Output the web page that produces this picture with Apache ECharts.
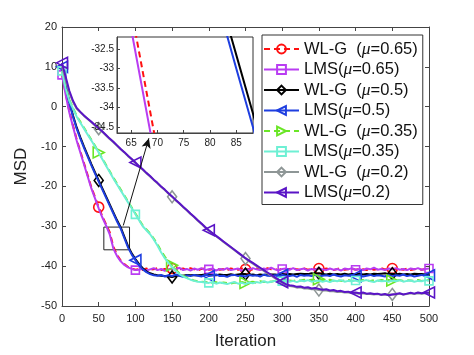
<!DOCTYPE html>
<html><head><meta charset="utf-8">
<script src="https://cdn.jsdelivr.net/npm/echarts@6/dist/echarts.min.js"></script>
<style>html,body{margin:0;padding:0;background:#fff}#c{width:474px;height:355px}</style>
</head><body><div id="c"></div>
<script>
// iteration grid (every 5 iterations)
const iterStep = 5;
const iterations = Array.from({length: 101}, (_, i) => i * iterStep);

const seriesNames = ['WL-G  (μ=0.65)', 'LMS(μ=0.65)', 'WL-G  (μ=0.5)', 'LMS(μ=0.5)',
  'WL-G  (μ=0.35)', 'LMS(μ=0.35)', 'WL-G  (μ=0.2)', 'LMS(μ=0.2)'];

const wlgMarkerIters = [50, 150, 250, 350, 450];
const lmsMarkerIters = [0, 100, 200, 300, 400, 500];

const insetXTicks = [65, 70, 75, 80, 85];
const insetYTicks = [-34.5, -34, -33.5, -33, -32.5];
const insetXRange = [62.3, 88.2];
const insetYRange = [-34.65, -32.2];
const zoomBox = [[57, -30.2], [92, -35.9]];
const zoomArrow = [[83.5, -29.8], [118.4, -7.9]];

const wlg065 = [8, 3.3, -1.2, -4.7, -8.2, -11.2, -14.2, -17.2, -20.2, -22.7, -25.2, -27.5, -29.5, -31.5, -35.1, -37.2, -38.6, -39.5, -40.2, -40.6, -40.9,
  -40.7, -41.0, -40.6, -40.9, -40.8, -40.5, -41.0, -40.7, -40.9, -40.6,
  -41.0, -40.8, -40.6, -40.9, -40.5, -40.8, -41.1, -40.7, -40.6, -40.9,
  -40.8, -40.5, -40.9, -40.7, -41.0, -40.6, -40.8, -40.9, -40.6, -40.8,
  -40.7, -41.0, -40.6, -40.8, -40.9, -40.5, -40.8, -40.7, -41.0, -40.6,
  -40.9, -40.7, -40.5, -40.8, -41.0, -40.6, -40.9, -40.7, -40.8, -40.6,
  -40.9, -40.6, -40.8, -41.0, -40.7, -40.5, -40.9, -40.8, -40.6, -40.9,
  -40.7, -40.8, -41.0, -40.6, -40.9, -40.7, -40.5, -40.8, -40.9, -40.6,
  -40.8, -40.7, -40.9, -40.6, -41.0, -40.8, -40.6, -40.9, -40.7, -40.8];
const lms065 = [8, 3, -1.5, -5, -8.5, -11.5, -14.5, -17.5, -20.5, -23, -25.5, -27.8, -29.8, -32.0, -35.6, -37.5, -38.8, -39.7, -40.3, -40.7, -41.0,
  -40.9, -40.6, -41.1, -40.8, -40.5, -41.0, -40.7, -41.2, -40.8, -40.6,
  -40.9, -40.4, -41.0, -40.7, -41.1, -40.6, -40.9, -40.5, -41.0, -40.8,
  -40.6, -41.1, -40.7, -40.9, -40.5, -41.0, -40.8, -40.6, -41.2, -40.7,
  -40.9, -40.5, -40.8, -41.0, -40.6, -40.9, -40.4, -40.8, -41.1, -40.7,
  -40.6, -40.9, -40.5, -41.0, -40.8, -40.6, -41.1, -40.7, -40.9, -40.5,
  -40.8, -41.0, -40.6, -40.9, -40.7, -41.1, -40.6, -40.8, -40.5, -40.9,
  -40.7, -41.0, -40.6, -40.8, -40.4, -40.9, -40.7, -41.0, -40.6, -40.8,
  -40.5, -40.9, -40.7, -41.0, -40.6, -40.8, -40.5, -40.9, -40.7, -40.6];
const wlg05 = [10, 5.3, 1.3, -2.2, -5.2, -7.7, -10.0, -12.2, -14.4, -16.5, -18.5, -20.5, -22.5, -24.5, -26.5, -28.5, -30.3, -32.65, -35.0, -36.8, -38.2, -39.5, -40.5, -41.3, -41.8, -42.1, -42.3,
  -42.4, -42.5, -42.6, -42.7, -42.5, -42.3, -42.4, -42.2, -42.3, -42.2,
  -42.3, -42.2, -42.1, -42.3, -42.2, -42.3, -42.1, -42.2, -42.2, -42.0,
  -42.2, -42.1, -42.0, -42.0, -42.2, -42.1, -42.3, -42.1, -42.2, -42.0,
  -42.1, -42.1, -42.2, -42.0, -42.1, -42.0, -42.1, -42.0, -41.9, -42.0,
  -42.0, -41.8, -41.9, -41.8, -42.0, -42.1, -41.9, -42.1, -42.0, -42.1,
  -41.9, -42.1, -42.0, -42.1, -41.9, -42.1, -42.0, -42.1, -41.9, -42.0,
  -41.9, -41.8, -42.0, -41.9, -42.1, -41.9, -42.1, -42.0, -42.1, -41.9,
  -42.0, -42.0, -42.1, -42.0];
const lms05 = [10, 5, 1, -2.5, -5.5, -8, -10.3, -12.5, -14.7, -16.8, -18.8, -20.8, -22.8, -24.8, -26.8, -28.8, -30.6, -33.0, -35.35, -37.1, -38.5, -39.8, -40.8, -41.5, -42, -42.3, -42.4,
  -42.2, -42.6, -42.3, -42.5, -42.1, -42.4, -42.7, -42.3, -42.5, -42.2,
  -42.4, -42.6, -42.2, -42.5, -42.3, -42.1, -42.5, -42.4, -42.7, -42.3,
  -42.2, -42.5, -42.4, -42.6, -42.2, -42.4, -42.3, -42.6, -42.1, -42.4,
  -42.5, -42.3, -42.6, -42.2, -42.4, -42.5, -42.3, -42.7, -42.2, -42.4,
  -42.3, -42.5, -42.2, -42.6, -42.4, -42.3, -42.5, -42.1, -42.4, -42.6,
  -42.3, -42.4, -42.2, -42.5, -42.3, -42.6, -42.4, -42.2, -42.5, -42.3,
  -42.4, -42.6, -42.2, -42.5, -42.3, -42.4, -42.1, -42.5, -42.3, -42.6,
  -42.4, -42.2, -42.5, -42.3];
const wlg035 = [9, 4.7, 1.7, -0.3, -2.3, -3.8, -5.3, -6.8, -8.3, -9.8, -11.5, -13.0, -14.6, -16.2, -17.8, -19.3, -20.8, -22.3, -23.8, -25.3, -26.8,
  -28.3, -29.8, -30.8, -31.8, -33.1, -34.5, -36.2, -37.6, -38.8, -39.8, -40.9, -41.8, -42.4, -42.9, -43.3, -43.6, -43.8, -43.9, -44.0, -44.1,
  -44.2, -44.0, -44.3, -44.1, -44.2, -44.4, -44.1, -44.3, -44.0, -44.2,
  -44.0, -43.9, -44.2, -43.8, -44.0, -43.8, -43.9, -43.7, -43.8, -43.6,
  -43.7, -43.6, -43.7, -43.5, -43.6, -43.4, -43.6, -43.4, -43.5, -43.3,
  -43.5, -43.6, -43.4, -43.7, -43.5, -43.7, -43.6, -43.5, -43.7, -43.5,
  -43.7, -43.5, -43.6, -43.7, -43.5, -43.7, -43.5, -43.6, -43.5, -43.6,
  -43.7, -43.5, -43.7, -43.5, -43.6, -43.7, -43.5, -43.7, -43.6, -43.5];
const lms035 = [9, 4.5, 1.5, -0.5, -2.5, -4, -5.5, -7, -8.5, -10, -11.5, -13.2, -14.8, -16.4, -18, -19.5, -21, -22.5, -24, -25.5, -27,
  -28.5, -30, -31, -32, -33.3, -34.8, -36.5, -38, -39.2, -40.3, -41.2, -42, -42.6, -43, -43.4, -43.7, -43.9, -44, -44.1, -44.2,
  -44.0, -44.4, -44.1, -44.3, -44.5, -44.2, -44.0, -44.4, -44.2, -44.5,
  -44.1, -44.3, -44.0, -44.2, -43.8, -44.1, -43.9, -43.7, -44.0, -43.8,
  -43.6, -43.9, -43.7, -44.0, -43.6, -43.8, -43.5, -43.9, -43.7, -43.6,
  -43.9, -43.7, -44.0, -43.6, -43.8, -43.5, -43.9, -43.7, -43.8, -43.6,
  -43.9, -43.7, -43.5, -43.8, -44.0, -43.6, -43.8, -43.7, -43.9, -43.6,
  -43.8, -43.5, -43.9, -43.7, -43.6, -43.9, -43.7, -43.8, -43.5, -43.7];
const wlg02 = [10, 6.8, 3.5, 1.2, -0.5, -1.4, -2.3, -3.1, -3.9, -4.7, -5.5, -6.3, -7.2, -8.1, -8.9, -9.8, -10.7, -11.5, -12.4, -13.2, -14.1,
  -15.0, -15.8, -16.7, -17.5, -18.4, -19.2, -20.1, -20.9, -21.8, -22.6,
  -23.5, -24.3, -25.2, -26.0, -26.9, -27.7, -28.6, -29.4, -30.3, -31.1,
  -31.8, -32.5, -33.2, -33.9, -34.6, -35.3, -36.0, -36.7, -37.4, -38.1,
  -38.8, -39.4, -40.0, -40.6, -41.2, -41.8, -42.4, -43.0, -43.6, -44.2,
  -44.7, -45.0, -45.1, -45.4, -45.3, -45.6, -45.6, -45.8, -45.8, -46.0,
  -46.1, -46.1, -46.3, -46.3, -46.5, -46.4, -46.6, -46.6, -46.8, -46.8,
  -46.9, -46.8, -47.0, -47.0, -47.1, -47.0, -47.2, -47.1, -47.2, -47.1,
  -47.1, -46.9, -47.1, -47.0, -46.8, -47.0, -46.8, -46.9, -46.8, -46.8];
const lms02 = [11, 7.5, 4, 1.5, -0.3, -1.3, -2.2, -3, -3.8, -4.6, -5.4, -6.2, -7.1, -8, -8.8, -9.7, -10.6, -11.4, -12.3, -13.1, -14,
  -14.9, -15.7, -16.6, -17.4, -18.3, -19.1, -20, -20.8, -21.7, -22.5,
  -23.4, -24.2, -25.1, -25.9, -26.8, -27.6, -28.5, -29.3, -30.2, -31,
  -31.7, -32.4, -33.1, -33.8, -34.5, -35.2, -35.9, -36.6, -37.3, -38,
  -38.6, -39.2, -39.8, -40.4, -41, -41.6, -42.2, -42.8, -43.4, -44,
  -44.5, -44.8, -44.9, -45.2, -45.1, -45.4, -45.3, -45.6, -45.5, -45.7,
  -45.9, -45.8, -46.1, -46.0, -46.3, -46.2, -46.5, -46.4, -46.7, -46.6,
  -46.8, -46.6, -46.9, -46.8, -47.0, -46.9, -47.2, -47.0, -47.3, -47.1,
  -47.0, -46.8, -47.1, -46.9, -46.7, -46.9, -46.6, -46.8, -46.7, -46.6];

const seriesValues = [wlg065, lms065, wlg05, lms05, wlg035, lms035, wlg02, lms02];
const colors = ['#ff1010', '#b93cf2', '#000000', '#1e3ee0', '#6ae626', '#6ef0d4', '#8e9696', '#5a14c6'];
const dashed = [true, false, false, false, true, false, false, false];
const symbols = ['circle', 'rect', 'diamond', 'triangle', 'triangle', 'rect', 'diamond', 'triangle'];
const rotations = [0, 0, 0, 90, -90, 0, 0, 90];
const symSizes = [10, 8, [9, 12], 11, 11, 8, [9, 12], 11];
const markerSets = [wlgMarkerIters, lmsMarkerIters, wlgMarkerIters, lmsMarkerIters, wlgMarkerIters, lmsMarkerIters, wlgMarkerIters, lmsMarkerIters];

const FONT = 'Liberation Sans, Arial, sans-serif';
const series = [];
seriesValues.forEach((vals, k) => {
  const data = iterations.map((x, i) => [x, vals[i]]);
  const marks = markerSets[k];
  series.push({
    name: seriesNames[k], type: 'line', xAxisIndex: 0, yAxisIndex: 0,
    data: data, symbol: symbols[k], symbolRotate: rotations[k], showAllSymbol: true,
    symbolSize: (v) => marks.indexOf(v[0]) >= 0 ? symSizes[k] : 0,
    lineStyle: {color: colors[k], width: 2, type: dashed[k] ? [6, 4] : 'solid'},
    itemStyle: {color: 'rgba(255,255,255,0)', borderColor: colors[k], borderWidth: 1.6},
    emphasis: {disabled: true}, animation: false, z: 2 + k * 0.01
  });
});
// inset copies
seriesValues.forEach((vals, k) => {
  series.push({
    name: seriesNames[k] + ' inset', type: 'line', xAxisIndex: 2, yAxisIndex: 2,
    data: iterations.map((x, i) => [x, vals[i]]), symbol: 'none', clip: true,
    lineStyle: {color: colors[k], width: 2, type: dashed[k] ? [6, 4] : 'solid'},
    emphasis: {disabled: true}, animation: false, z: 11, silent: true
  });
});
// zoom box + arrow
series.push({
  name: 'zoom', type: 'line', xAxisIndex: 0, yAxisIndex: 0, data: [], silent: true, animation: false, z: 1,
  markArea: {silent: true, itemStyle: {color: 'rgba(0,0,0,0)', borderColor: '#222', borderWidth: 1},
    label: {show: false}, data: [[{coord: zoomBox[0]}, {coord: zoomBox[1]}]]},
  markLine: {silent: true, symbol: ['none', 'arrow'], symbolSize: [7, 10], label: {show: false},
    lineStyle: {color: '#111', width: 1, type: 'solid'},
    data: [[{coord: zoomArrow[0]}, {coord: zoomArrow[1]}]]}
});

const axisCol = '#444', txtCol = '#222';
const option = {
  backgroundColor: '#fff',
  animation: false,
  grid: [
    {left: 62, top: 27, right: 45, bottom: 43, show: false},
    {left: 117, top: 37, width: 136, height: 96, show: true, backgroundColor: '#fff', borderColor: '#333', borderWidth: 1, z: 10}
  ],
  xAxis: [
    {type: 'value', gridIndex: 0, position: 'bottom', min: 0, max: 500, interval: 50,
      axisLine: {show: true, onZero: false, lineStyle: {color: axisCol, width: 1}},
      axisTick: {inside: true, length: 4, lineStyle: {color: axisCol}},
      axisLabel: {fontSize: 11, color: txtCol, fontFamily: FONT, margin: 7},
      splitLine: {show: false},
      name: 'Iteration', nameLocation: 'middle', nameGap: 27,
      nameTextStyle: {fontSize: 17, color: txtCol, fontFamily: FONT}},
    {type: 'value', gridIndex: 0, position: 'top', min: 0, max: 500, interval: 50,
      axisLine: {show: true, onZero: false, lineStyle: {color: axisCol, width: 1}},
      axisTick: {inside: true, length: 4, lineStyle: {color: axisCol}},
      axisLabel: {show: false}, splitLine: {show: false}},
    {type: 'value', gridIndex: 1, position: 'bottom', min: insetXRange[0], max: insetXRange[1], z: 12,
      axisLine: {show: true, onZero: false, lineStyle: {color: axisCol, width: 1}},
      axisTick: {inside: true, length: 3, customValues: insetXTicks, lineStyle: {color: axisCol}},
      axisLabel: {fontSize: 10, color: txtCol, fontFamily: FONT, margin: 5, customValues: insetXTicks},
      splitLine: {show: false}}
  ],
  yAxis: [
    {type: 'value', gridIndex: 0, position: 'left', min: -50, max: 20, interval: 10,
      axisLine: {show: true, onZero: false, lineStyle: {color: axisCol, width: 1}},
      axisTick: {inside: true, length: 4, lineStyle: {color: axisCol}},
      axisLabel: {fontSize: 11, color: txtCol, fontFamily: FONT, margin: 5},
      splitLine: {show: false},
      name: 'MSD', nameLocation: 'middle', nameGap: 21,
      nameTextStyle: {fontSize: 17, color: txtCol, fontFamily: FONT}},
    {type: 'value', gridIndex: 0, position: 'right', min: -50, max: 20, interval: 10,
      axisLine: {show: true, onZero: false, lineStyle: {color: axisCol, width: 1}},
      axisTick: {inside: true, length: 4, lineStyle: {color: axisCol}},
      axisLabel: {show: false}, splitLine: {show: false}},
    {type: 'value', gridIndex: 1, position: 'left', min: insetYRange[0], max: insetYRange[1], z: 12,
      axisLine: {show: true, onZero: false, lineStyle: {color: axisCol, width: 1}},
      axisTick: {inside: true, length: 3, customValues: insetYTicks, lineStyle: {color: axisCol}},
      axisLabel: {fontSize: 10, color: txtCol, fontFamily: FONT, margin: 3, customValues: insetYTicks},
      splitLine: {show: false}}
  ],
  legend: {
    data: seriesNames, orient: 'vertical', left: 262, top: 35,
    backgroundColor: '#fff', borderColor: '#333', borderWidth: 1,
    padding: [5, 5, 3, 1], itemWidth: 35, itemHeight: 11, itemGap: 2.5,
    selectedMode: false, z: 20,
    textStyle: {fontSize: 16.5, color: '#111', fontFamily: FONT, lineHeight: 16,
      rich: {mu: {fontStyle: 'italic', fontFamily: 'Liberation Serif, serif', fontSize: 17.5, color: '#111', lineHeight: 16}}},
    formatter: (n) => n.replace('μ', '{mu|μ}')
  },
  series: series
};
const chart = echarts.init(document.getElementById('c'), null, {renderer: 'canvas'});
chart.setOption(option);
</script></body></html>
